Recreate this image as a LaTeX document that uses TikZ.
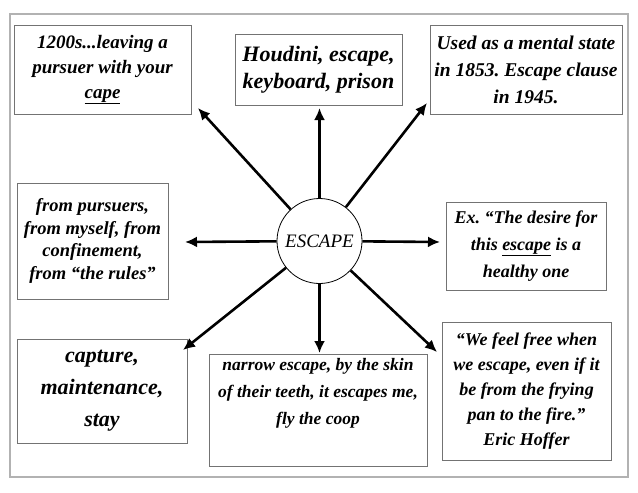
\documentclass[tikz,border=0pt]{standalone}
\usepackage{fontspec}
\setmainfont{Liberation Serif}
\usetikzlibrary{arrows.meta}
\frenchspacing
\begin{document}
\begin{tikzpicture}[x=1pt,y=-1pt]
        \tikzstyle{idea}=[rectangle,draw=black!55,line width=0.9pt,inner sep=0pt,align=center]
        \tikzstyle{hub}=[circle,draw=black,line width=0.8pt,minimum size=85pt,inner sep=0pt,font=\itshape\fontsize{19}{22}\selectfont]
        \tikzstyle{spoke}=[draw,line width=2.6pt,-{Latex[length=12pt,width=11pt]}]
        \useasboundingbox (0,0) rectangle (638,493);
        \draw[black!30,line width=1.2pt] (10,14) rectangle (628,477);
        \begin{scope}
           \node [hub] (esc) at (319.5,241) {ESCAPE};
           \node [idea,minimum width=177pt,minimum height=89pt,font=\bfseries\itshape\fontsize{19}{25}\selectfont] (b1) at (102.5,69.5) {1200s...leaving a\\pursuer with your\\\underline{cape}};
           \node [idea,minimum width=167pt,minimum height=71pt,font=\bfseries\itshape\fontsize{22}{27}\selectfont] (b2) at (318.5,69.5) {Houdini, escape,\\keyboard, prison};
           \node [idea,minimum width=192pt,minimum height=89pt,font=\bfseries\itshape\fontsize{19.5}{27}\selectfont] (b3) at (526,69.5) {Used as a mental state\\in 1853. Escape clause\\in 1945.};
           \node [idea,minimum width=151pt,minimum height=116pt,font=\bfseries\itshape\fontsize{18.5}{22.5}\selectfont] (b4) at (92.5,241) {from pursuers,\\from myself, from\\confinement,\\from ``the rules''};
           \node [idea,minimum width=160pt,minimum height=88pt,font=\bfseries\itshape\fontsize{18}{27}\selectfont] (b5) at (526,246) {Ex. ``The desire for\\this \underline{escape} is a\\healthy one};
           \node [idea,minimum width=170pt,minimum height=104pt,font=\bfseries\itshape\fontsize{22}{32}\selectfont] (b6) at (102,391) {capture,\\maintenance,\\stay};
           \node [idea,minimum width=218pt,minimum height=112pt,text depth=38pt,font=\bfseries\itshape\fontsize{17.5}{27}\selectfont] (b7) at (318,410) {narrow escape, by the skin\\of their teeth, it escapes me,\\fly the coop};
           \node [idea,minimum width=169pt,minimum height=138pt,font=\bfseries\itshape\fontsize{18}{25}\selectfont] (b8) at (526.5,391) {``We feel free when\\we escape, even if it\\be from the frying\\pan to the fire.''\\Eric Hoffer};
           % arrow tips
           \coordinate (t1) at (198,108);
           \coordinate (t2) at (319.5,108);
           \coordinate (t3) at (427,103);
           \coordinate (t4) at (185,242);
           \coordinate (t5) at (440,242);
           \coordinate (t6) at (183,350);
           \coordinate (t7) at (319.5,353);
           \coordinate (t8) at (437,352);
           \path[spoke] (esc) -- (t1);
           \path[spoke] (esc) -- (t2);
           \path[spoke] (esc) -- (t3);
           \path[spoke] (esc) -- (t4);
           \path[spoke] (esc) -- (t5);
           \path[spoke] (esc) -- (t6);
           \path[spoke] (esc) -- (t7);
           \path[spoke] (esc) -- (t8);
        \end{scope}
\end{tikzpicture}
\end{document}
